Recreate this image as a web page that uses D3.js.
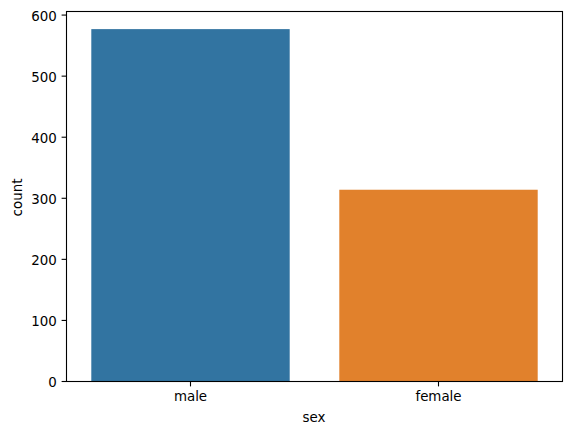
<!DOCTYPE html>
<html>
<head>
<meta charset="utf-8">
<script src="https://cdn.jsdelivr.net/npm/d3@7"></script>
<style>
    html, body { margin: 0; padding: 0; background: #fff; }
    svg { display: block; }
    text { font-family: "DejaVu Sans", sans-serif; fill: #000; }
</style>
</head>
<body>
<svg id="chart"></svg>
<script>
const categories = ['male', 'female']
const counts = [577, 314]
const barColors = ['#3274a1', '#e1812c']
const yTicks = [0, 100, 200, 300, 400, 500, 600]

const width = 571, height = 434
const margin = {top: 11.5, left: 66.5}
const innerW = 496
const innerH = 370
const fontSize = '13.4px'

const svg = d3.select('#chart').attr('width', width).attr('height', height)
const g = svg.append('g').attr('transform', 'translate(' + margin.left + ',' + margin.top + ')')

// seaborn style: each category takes 1 unit, bar 0.8 of it
const x = d3.scaleBand().domain(categories).range([0, innerW]).paddingInner(0.2).paddingOuter(0.1)
const y = d3.scaleLinear().domain([0, d3.max(counts) * 1.05]).range([innerH, 0])

g.selectAll('rect.bar')
    .data(categories)
    .join('rect')
    .attr('class', 'bar')
    .attr('x', d => x(d))
    .attr('width', x.bandwidth())
    .attr('y', (d, i) => y(counts[i]))
    .attr('height', (d, i) => innerH - y(counts[i]))
    .attr('fill', (d, i) => barColors[i])

// axes
const xAxis = g.append('g')
    .attr('transform', 'translate(0,' + innerH + ')')
    .call(d3.axisBottom(x).offset(0).tickSize(4.9).tickPadding(4.9))
const yAxis = g.append('g')
    .call(d3.axisLeft(y).offset(0).tickValues(yTicks).tickSize(4.9).tickPadding(4.9))

xAxis.selectAll('text').attr('font-size', fontSize).style('font-family', '"DejaVu Sans", sans-serif')
yAxis.selectAll('text').attr('font-size', fontSize).attr('dy', '0.43em').style('font-family', '"DejaVu Sans", sans-serif')
xAxis.selectAll('line').attr('stroke', '#000').attr('stroke-width', 1.1)
yAxis.selectAll('line').attr('stroke', '#000').attr('stroke-width', 1.1)
xAxis.select('.domain').remove()
yAxis.select('.domain').remove()

// frame
g.append('rect')
    .attr('width', innerW)
    .attr('height', innerH)
    .attr('fill', 'none')
    .attr('stroke', '#000')
    .attr('stroke-width', 1.1)

// axis labels
g.append('text')
    .attr('x', innerW / 2 - 0.5)
    .attr('y', innerH + 40.5)
    .attr('text-anchor', 'middle')
    .attr('font-size', fontSize)
    .text('sex')

g.append('text')
    .attr('transform', 'translate(' + (-45) + ',' + (innerH / 2 + 1) + ') rotate(-90)')
    .attr('text-anchor', 'middle')
    .attr('font-size', fontSize)
    .text('count')
</script>
</body>
</html>
